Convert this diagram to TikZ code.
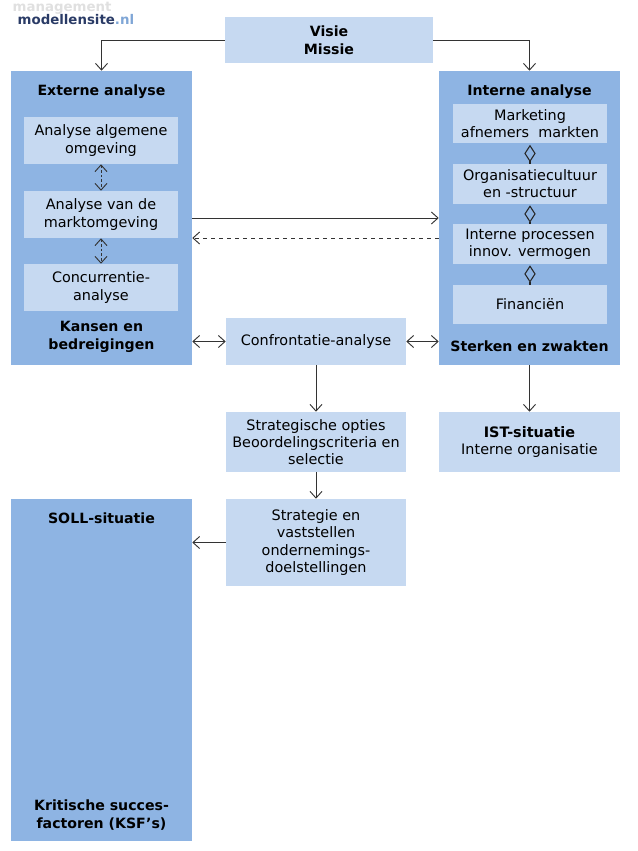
\documentclass[tikz,border=0pt]{standalone}
\usepackage{fontspec}
\setmainfont{DejaVu Sans}
\usetikzlibrary{arrows.meta, positioning}

\definecolor{outerblue}{HTML}{8EB4E3}
\definecolor{innerblue}{HTML}{C6D9F1}
\definecolor{logonavy}{HTML}{2A3B66}
\definecolor{logoblue}{HTML}{7FA6D6}

\tikzset{
  outerbox/.style={fill=outerblue, minimum width=135.75pt, inner sep=0pt},
  innerbox/.style={fill=innerblue, align=center, inner sep=0pt, font=\fontsize{10.8}{12.8}\selectfont},
  boxtitle/.style={align=center, font=\fontsize{10.6}{13.2}\selectfont\bfseries},
  conn/.style={draw=black!80, line width=0.7pt, -{Straight Barb[length=5pt,width=9pt]}},
  twoway/.style={draw=black!80, line width=0.7pt, {Straight Barb[length=5pt,width=9pt]}-{Straight Barb[length=5pt,width=9pt]}},
  linkdiamond/.style={draw=black!85, line width=0.8pt, {Diamond[open,length=13pt,width=8.5pt]}-, shorten <=1pt}
}

\begin{document}
\begin{tikzpicture}[x=0.75pt, y=-0.75pt]
  \useasboundingbox (0,0) rectangle (638,851);

  % logo
  \node[text=black!12, font=\fontsize{10}{10}\selectfont\bfseries, anchor=west] (logotop) at (8,8) {management};
  \node[anchor=west, font=\fontsize{10}{10}\selectfont\bfseries] (logo) at (13,20)
    {\textcolor{logonavy}{modellensite}\textcolor{logoblue}{.nl}};

  % top
  \node[innerbox, boxtitle, minimum width=156pt, minimum height=34.5pt] (visie) at (329,40) {Visie\\Missie};

  % externe analyse
  \node[outerbox, minimum height=220.5pt] (ext) at (101.5,218) {};
  \node[boxtitle] (extt) at (101.5,92) {Externe analyse};
  \node[innerbox, minimum width=115.5pt, minimum height=35.25pt] (alg) at (101,140.5) {Analyse algemene\\omgeving};
  \node[innerbox, minimum width=115.5pt, minimum height=35.25pt] (markt) at (101,214.5) {Analyse van de\\marktomgeving};
  \node[innerbox, minimum width=115.5pt, minimum height=35.25pt] (conc) at (101,287.5) {Concurrentie-\\analyse};
  \node[boxtitle] (kansen) at (101.5,337) {Kansen en\\bedreigingen};

  % interne analyse
  \node[outerbox, minimum height=220.5pt] (int) at (529.5,218) {};
  \node[boxtitle] (intt) at (529.5,92) {Interne analyse};
  \node[innerbox, minimum width=115.5pt, minimum height=29.5pt] (mark) at (530,123.5) {Marketing\\afnemers\ \ markten};
  \node[innerbox, minimum width=115.5pt, minimum height=29.5pt] (org) at (530,184) {Organisatiecultuur\\en -structuur};
  \node[innerbox, minimum width=115.5pt, minimum height=29.5pt] (proc) at (530,244) {Interne processen\\innov. vermogen};
  \node[innerbox, minimum width=115.5pt, minimum height=29.5pt] (fin) at (530,304.5) {Financiën};
  \node[boxtitle] (sterk) at (529.5,346) {Sterken en zwakten};

  % midden
  \node[innerbox, minimum width=135pt, minimum height=35.25pt] (conf) at (316,341.5) {Confrontatie-analyse};
  \node[innerbox, minimum width=135pt, minimum height=45pt] (opties) at (316,442) {Strategische opties\\Beoordelingscriteria en\\selectie};
  \node[innerbox, minimum width=135pt, minimum height=65.25pt] (doel) at (316,542.5) {Strategie en\\vaststellen\\ondernemings-\\doelstellingen};
  \node[innerbox, minimum width=135.75pt, minimum height=45pt] (ist) at (529.5,442) {\textbf{IST-situatie}\\Interne organisatie};

  % soll
  \node[outerbox, minimum height=256.5pt] (soll) at (101.5,670) {};
  \node[boxtitle] (sollt) at (101.5,518) {SOLL-situatie};
  \node[boxtitle] (ksf) at (101.5,815) {Kritische succes-\\factoren (KSF’s)};

  % verbindingen
  \draw[conn] (visie.west) -| (ext.north);
  \draw[conn] (visie.east) -| (int.north);
  \draw[conn] (ext.east) -- (int.west);
  \draw[conn, dashed] ([yshift=-15pt]int.west) -- ([yshift=-15pt]ext.east);
  \draw[twoway, dashed, dash pattern=on 2pt off 1.5pt] (alg.south) -- (markt.north);
  \draw[twoway, dashed, dash pattern=on 2pt off 1.5pt] (markt.south) -- (conc.north);
  \draw[linkdiamond] (mark.south) -- (org.north);
  \draw[linkdiamond] (org.south) -- (proc.north);
  \draw[linkdiamond] (proc.south) -- (fin.north);
  \draw[twoway] (conf.west) -- (conf.west -| ext.east);
  \draw[twoway] (conf.east) -- (conf.east -| int.west);
  \draw[conn] (conf.south) -- (opties.north);
  \draw[conn] (opties.south) -- (doel.north);
  \draw[conn] (doel.west) -- (doel.west -| soll.east);
  \draw[conn] (int.south) -- (ist.north);
\end{tikzpicture}
\end{document}
